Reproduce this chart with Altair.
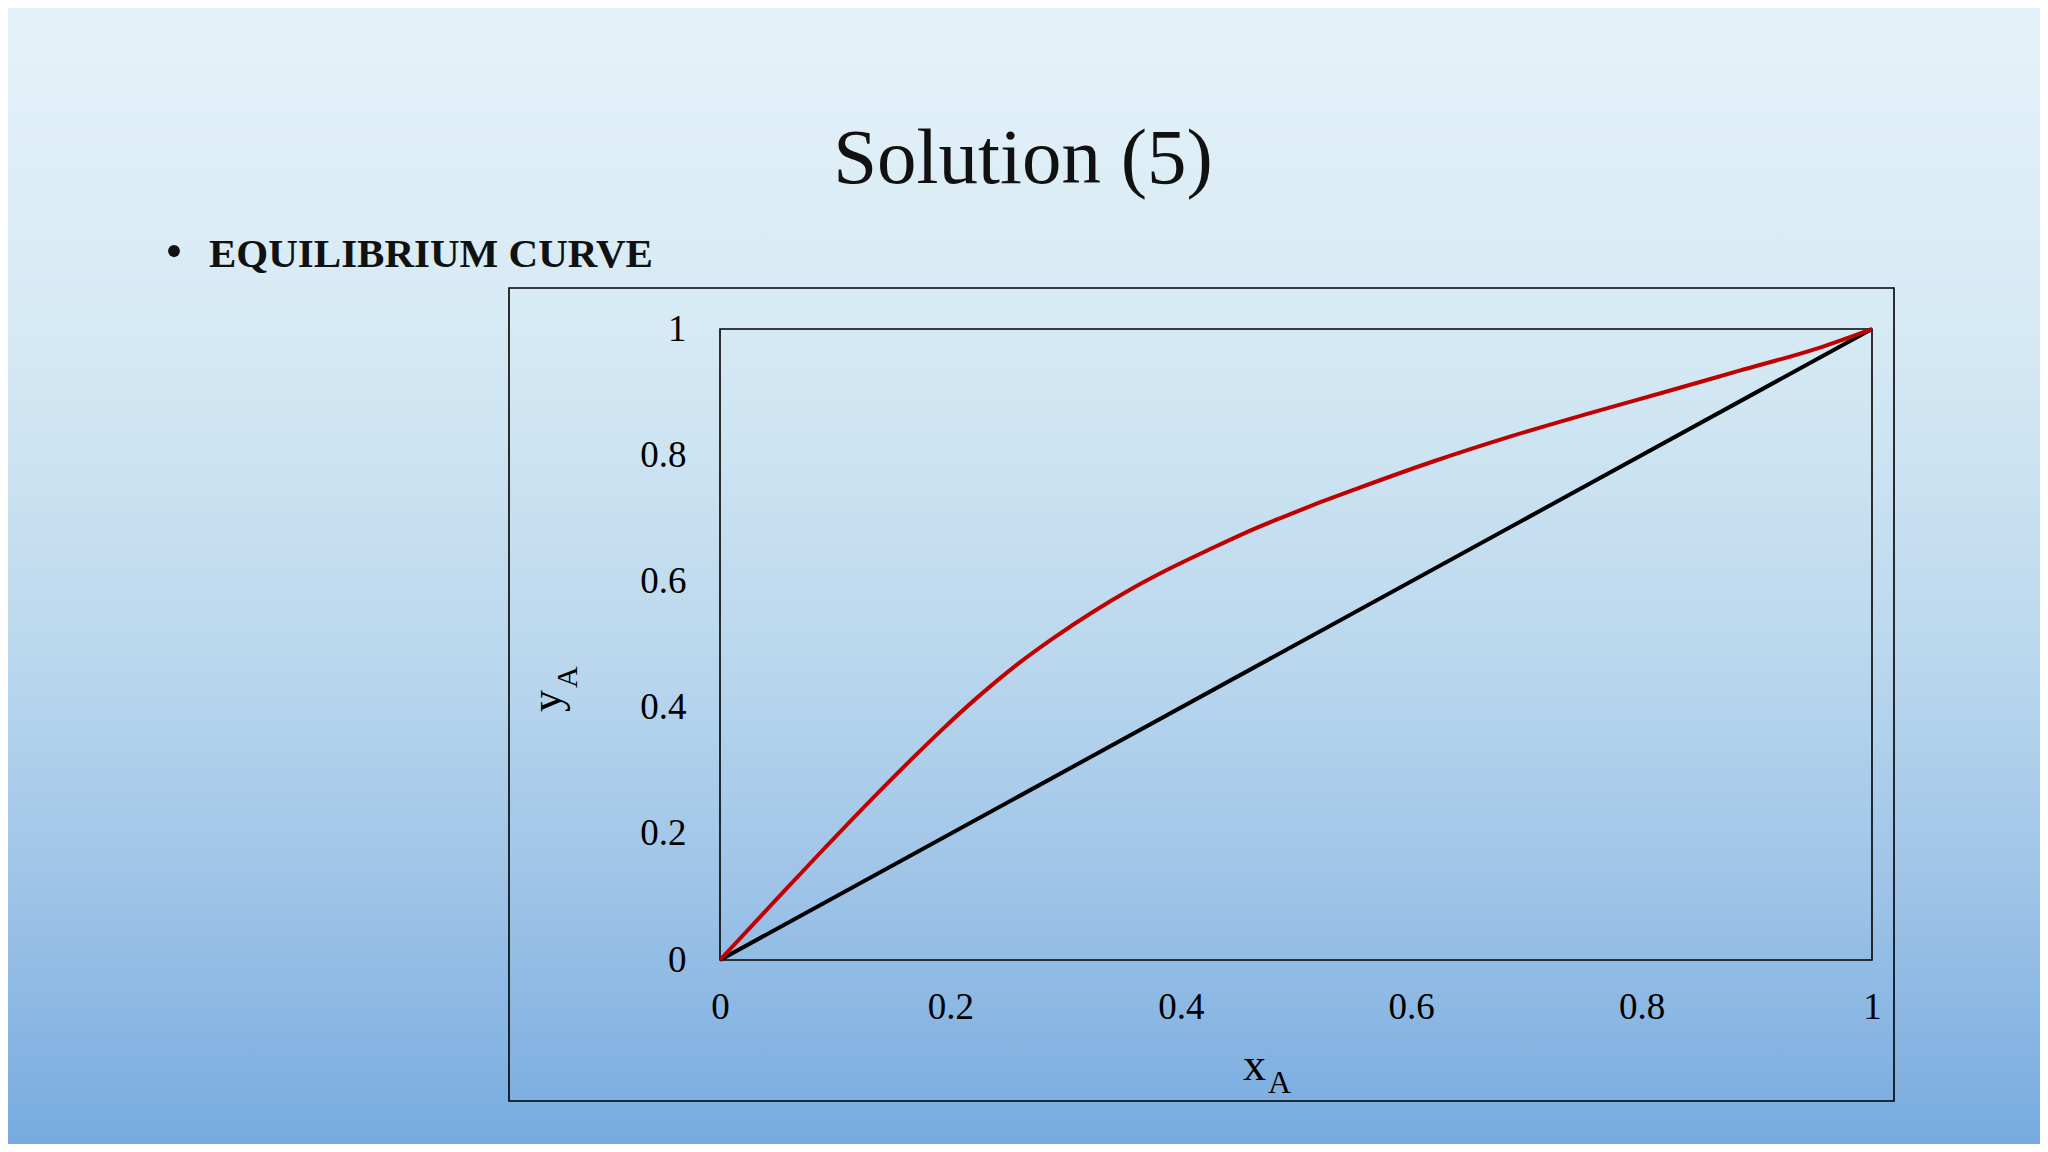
import altair as alt
import pandas as pd

# ---- data ----
x_red = [0, 0.05, 0.085, 0.141, 0.169, 0.191, 0.224, 0.257, 0.290, 0.324,
         0.357, 0.390, 0.423, 0.456, 0.486, 0.512, 0.553, 0.619, 0.685, 0.752,
         0.818, 0.885, 0.952, 1.0]
y_red = [0, 0.098, 0.166, 0.272, 0.323, 0.362, 0.417, 0.467, 0.511, 0.552,
         0.588, 0.620, 0.649, 0.677, 0.700, 0.719, 0.747, 0.790, 0.829, 0.865,
         0.899, 0.934, 0.969, 1.0]
x_diag = [0, 1]
y_diag = [0, 1]
tick_values = [0, 0.2, 0.4, 0.6, 0.8, 1]

title_text = "Solution (5)"
bullet_text = "EQUILIBRIUM CURVE"

W, H = 1152, 631
PAD_L, PAD_T, PAD_R, PAD_B = 712, 321, 168, 184

red_df = pd.DataFrame({"x": x_red, "y": y_red})
diag_df = pd.DataFrame({"x": x_diag, "y": y_diag})
one = alt.Data(values=[{"a": 1}])

SERIF = "Liberation Serif"

xscale = alt.Scale(domain=[0, 1], nice=False, zero=False)
yscale = alt.Scale(domain=[0, 1], nice=False, zero=False)

x_axis = alt.Axis(values=tick_values, format="~g", ticks=False, domain=False, grid=False,
                  labelFont=SERIF, labelFontSize=37, labelColor="black",
                  labelPadding=29, title=None, zindex=1, labelFlush=False)
y_axis = alt.Axis(values=tick_values, format="~g", ticks=False, domain=False, grid=False,
                  labelFont=SERIF, labelFontSize=37, labelColor="black",
                  labelPadding=34, title=None, zindex=1, labelFlush=False)

bg = alt.Chart(one).mark_rect(
    fill=alt.Gradient(
        gradient="linear",
        stops=[
            alt.GradientStop(color="#e5f2f9", offset=0),
            alt.GradientStop(color="#d5e9f4", offset=0.3),
            alt.GradientStop(color="#bdd9ee", offset=0.55),
            alt.GradientStop(color="#a2c6e8", offset=0.75),
            alt.GradientStop(color="#77abdf", offset=1),
        ],
        x1=0, x2=0, y1=0, y2=1,
    )
).encode(
    x=alt.value(-PAD_L), x2=alt.value(W + PAD_R),
    y=alt.value(-PAD_T), y2=alt.value(H + PAD_B),
)

outer_frame = alt.Chart(one).mark_rect(fillOpacity=0, stroke="black", strokeWidth=1.6).encode(
    x=alt.value(509 - 720), x2=alt.value(1894 - 720),
    y=alt.value(288 - 329), y2=alt.value(1101 - 329),
)

plot_frame = alt.Chart(one).mark_rect(fillOpacity=0, stroke="black", strokeWidth=1.6).encode(
    x=alt.value(0), x2=alt.value(W), y=alt.value(0), y2=alt.value(H),
)

diag = alt.Chart(diag_df).mark_line(color="black", strokeWidth=4).encode(
    x=alt.X("x:Q", scale=xscale, axis=x_axis),
    y=alt.Y("y:Q", scale=yscale, axis=y_axis),
)

red = alt.Chart(red_df).mark_line(color="#c00000", strokeWidth=4, interpolate="monotone").encode(
    x=alt.X("x:Q", scale=xscale),
    y=alt.Y("y:Q", scale=yscale),
)

title = alt.Chart(one).mark_text(text=title_text, font=SERIF, fontSize=79, color="#111111",
                                 align="center", baseline="alphabetic").encode(
    x=alt.value(1023 - 720), y=alt.value(183 - 329))

bullet = alt.Chart(one).mark_text(text="\u2022", font=SERIF, fontSize=50, color="#111111",
                                  align="center", baseline="alphabetic").encode(
    x=alt.value(174 - 720), y=alt.value(268 - 329))

subtitle = alt.Chart(one).mark_text(text=bullet_text, font=SERIF, fontSize=41, fontWeight="bold",
                                    color="#111111", align="left", baseline="alphabetic").encode(
    x=alt.value(209 - 720), y=alt.value(267 - 329))

xt_main = alt.Chart(one).mark_text(text="x", font=SERIF, fontSize=46, color="black",
                                   align="left", baseline="alphabetic").encode(
    x=alt.value(1243 - 720), y=alt.value(1080 - 329))
xt_sub = alt.Chart(one).mark_text(text="A", font=SERIF, fontSize=32, color="black",
                                  align="left", baseline="alphabetic").encode(
    x=alt.value(1268 - 720), y=alt.value(1093 - 329))

yt_main = alt.Chart(one).mark_text(text="y", font=SERIF, fontSize=44, color="black",
                                   align="left", baseline="alphabetic", angle=270).encode(
    x=alt.value(561 - 720), y=alt.value(712 - 329))
yt_sub = alt.Chart(one).mark_text(text="A", font=SERIF, fontSize=30, color="black",
                                  align="left", baseline="alphabetic", angle=270).encode(
    x=alt.value(577 - 720), y=alt.value(688 - 329))

chart = alt.layer(
    bg, outer_frame, plot_frame, diag, red,
    title, bullet, subtitle, xt_main, xt_sub, yt_main, yt_sub,
).properties(
    width=W, height=H,
    autosize=alt.AutoSizeParams(type="none"),
    padding={"left": PAD_L, "top": PAD_T, "right": PAD_R, "bottom": PAD_B},
    background="#cfe4f2",
).configure_view(stroke=None)

chart.save("out.html", embed_options={"renderer": "svg", "actions": False})
